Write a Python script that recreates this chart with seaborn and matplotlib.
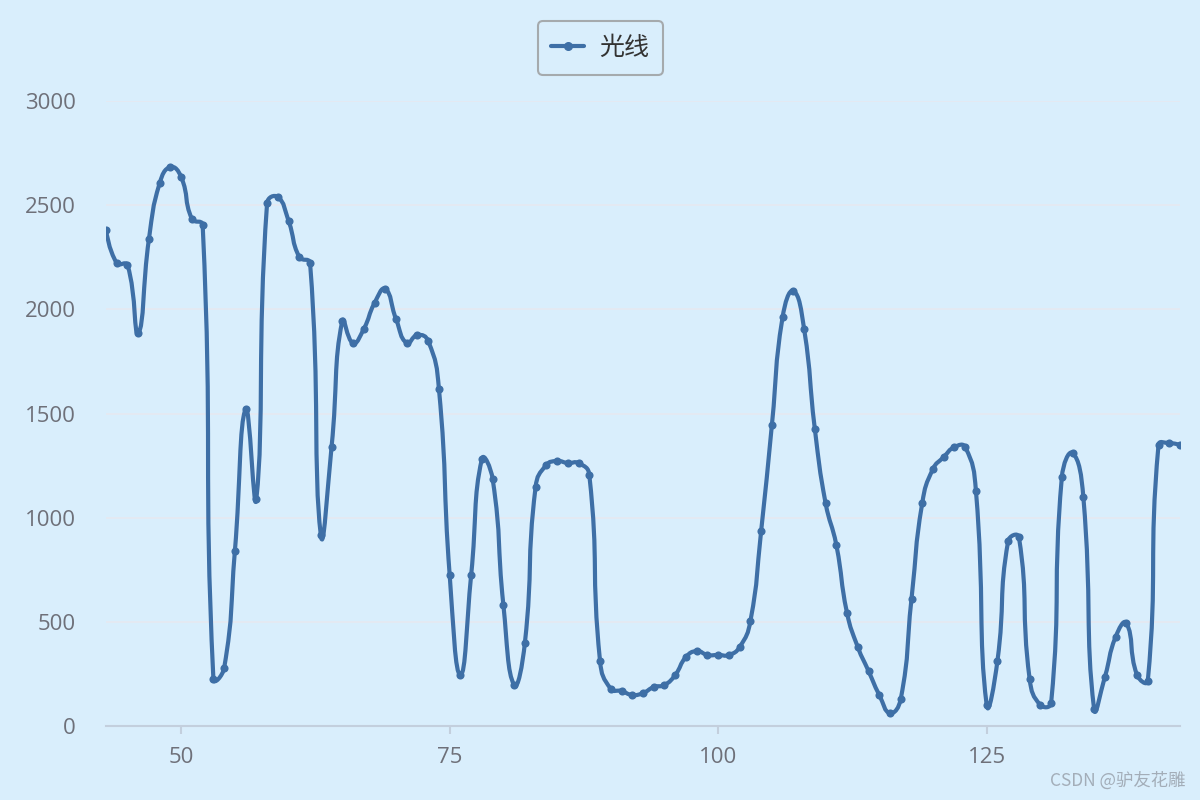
import numpy as np
import pandas as pd
import seaborn as sns
import matplotlib
matplotlib.use("Agg")
import matplotlib.pyplot as plt
from matplotlib.path import Path
from matplotlib.patches import PathPatch
from matplotlib.lines import Line2D

# x positions (sample index) and light readings
x_vals = list(range(43, 144))
light = [2380, 2222, 2213, 1886, 2338, 2606, 2683, 2635, 2434, 2405,
         226, 278, 840, 1522, 1090, 2510, 2539, 2424, 2251, 2222,
         917, 1339, 1944, 1838, 1906, 2030, 2098, 1954, 1838, 1877,
         1848, 1618, 725, 245, 725, 1282, 1186, 581, 197, 398,
         1147, 1253, 1272, 1262, 1262, 1205, 312, 178, 168, 149,
         158, 187, 197, 245, 331, 360, 341, 341, 341, 379,
         504, 936, 1445, 1963, 2088, 1906, 1426, 1070, 869, 542,
         379, 264, 149, 62, 130, 610, 1070, 1234, 1291, 1339,
         1339, 1128, 101, 312, 888, 907, 226, 101, 110, 1195,
         1310, 1099, 82, 235, 427, 494, 245, 216, 1349, 1358,
         1349]
series_name = "光线"
x_ticks = [50, 75, 100, 125]
y_ticks = [0, 500, 1000, 1500, 2000, 2500, 3000]

bg = "#D9EEFC"
line_color = "#3E6FA6"
label_color = "#6E7079"

df = pd.DataFrame({"x": x_vals, "y": light})

sns.set_theme(style="white")
plt.rcParams["font.family"] = ["Noto Sans CJK SC", "DejaVu Sans"]

fig = plt.figure(figsize=(12, 8), dpi=100, facecolor=bg)
ax = fig.add_axes([106 / 1200, 1 - 726 / 800, (1180 - 106) / 1200, (726 - 101) / 800])
ax.set_facecolor(bg)
ax.set_xlim(43, 143)
ax.set_ylim(0, 3000)


def smooth_path(xs, ys, sx, sy, smooth=0.5):
    # echarts-like smooth line: bezier control points from neighbours
    px = np.asarray(xs, float) * sx
    py = np.asarray(ys, float) * sy
    n = len(px)
    cps = []
    for i in range(n):
        if i == 0 or i == n - 1:
            cps.append(((px[i], py[i]), (px[i], py[i])))
            continue
        vx, vy = px[i + 1] - px[i - 1], py[i + 1] - py[i - 1]
        d0 = np.hypot(px[i] - px[i - 1], py[i] - py[i - 1])
        d1 = np.hypot(px[i + 1] - px[i], py[i + 1] - py[i])
        s = d0 + d1 if d0 + d1 > 0 else 1
        c0 = (px[i] - vx * smooth * d0 / s, py[i] - vy * smooth * d0 / s)
        c1 = (px[i] + vx * smooth * d1 / s, py[i] + vy * smooth * d1 / s)
        cps.append((c0, c1))
    verts = [(px[0] / sx, py[0] / sy)]
    codes = [Path.MOVETO]
    for i in range(1, n):
        a = cps[i - 1][1]
        b = cps[i][0]
        verts += [(a[0] / sx, a[1] / sy), (b[0] / sx, b[1] / sy), (px[i] / sx, py[i] / sy)]
        codes += [Path.CURVE4] * 3
    return Path(verts, codes)


path = smooth_path(df["x"], df["y"], 1074 / 100, 625 / 3000)
ax.add_patch(PathPatch(path, facecolor="none", edgecolor=line_color, lw=3.0,
                       capstyle="round", joinstyle="round", zorder=3))
sns.scatterplot(data=df, x="x", y="y", ax=ax, color=line_color, s=34,
                edgecolor=line_color, linewidth=0, zorder=4, legend=False)

ax.set_yticks(y_ticks)
ax.set_xticks(x_ticks)
ax.yaxis.grid(True, color="#E6E9F1", lw=1.2)
ax.xaxis.grid(False)
for side in ["top", "right", "left"]:
    ax.spines[side].set_visible(False)
ax.spines["bottom"].set_color("#C3CFDD")
ax.spines["bottom"].set_linewidth(1.5)
ax.tick_params(axis="x", length=6, width=1.5, color="#C3CFDD", pad=9,
               labelsize=16, labelcolor=label_color, bottom=True)
ax.tick_params(axis="y", length=0, pad=22, labelsize=16, labelcolor=label_color)
for lbl in ax.get_xticklabels() + ax.get_yticklabels():
    lbl.set_family(["Open Sans", "DejaVu Sans"])
ax.set_xlabel("")
ax.set_ylabel("")

handle = Line2D([0], [0], color=line_color, lw=3.0, marker="o", markersize=5.5)
leg = fig.legend([handle], [series_name], loc="upper center",
                 bbox_to_anchor=(0.5, 1 - 21 / 800), fontsize=18, frameon=True,
                 fancybox=True, handlelength=1.3, handletextpad=0.6,
                 borderpad=0.55, borderaxespad=0)
leg.get_frame().set_facecolor(bg)
leg.get_frame().set_edgecolor("#999999")
leg.get_frame().set_linewidth(1.5)
for t in leg.get_texts():
    t.set_color("#333333")

fig.text(1185 / 1200, 1 - 781 / 800, "CSDN @驴友花雕", ha="right", va="center",
         fontsize=12.5, color="#A3ADB8")

fig.savefig("out.png", dpi=100, facecolor=bg)
